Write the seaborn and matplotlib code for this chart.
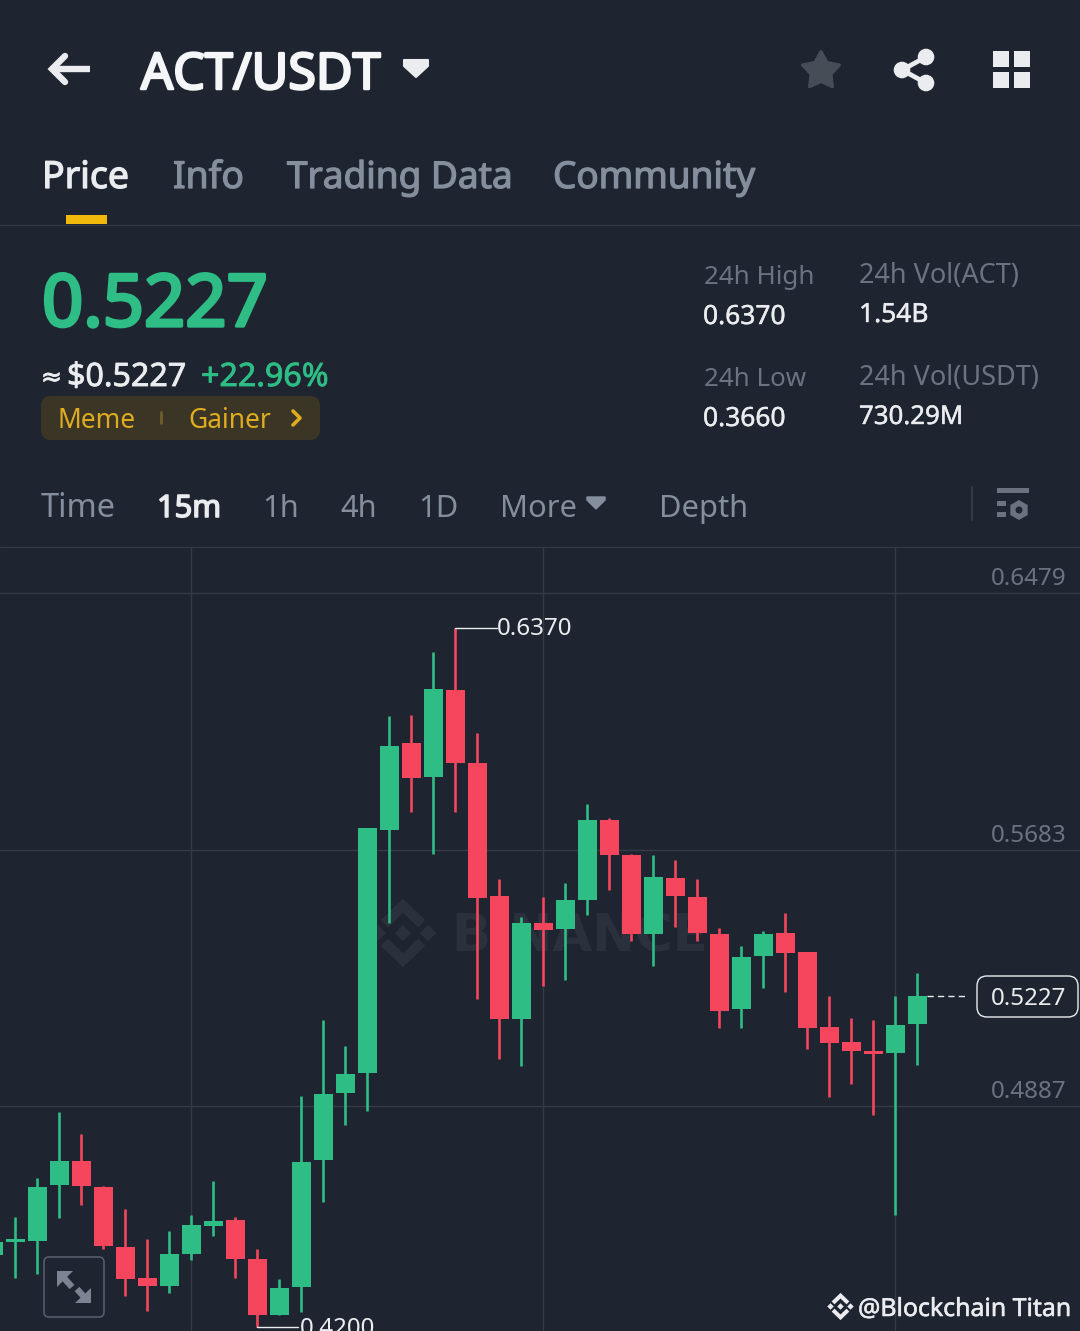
import numpy as np
import pandas as pd
import matplotlib
matplotlib.use('Agg')
import matplotlib.pyplot as plt
import matplotlib.patheffects as pe
from matplotlib.patches import FancyBboxPatch, Polygon, Rectangle, Circle, RegularPolygon
import seaborn as sns

BG = '#1e2530'
GRID = '#353b46'
UP = '#2ebd85'
DOWN = '#f6465d'
WHITE = '#eaecef'
GRAY = '#848e9c'
DIM = '#6b7380'

# candles
opens = [.4425, .4465, .4468, .4641, .4715, .4637, .4450, .4353, .4329, .4428, .4516, .4532, .4411, .4239,
         .4326, .4718, .4928, .4989, .5743, .6013, .5907, .6178, .5952, .5538, .5158, .5455, .5436, .5527,
         .5775, .5666, .5421, .5596, .5536, .5420, .5187, .5352, .5423, .5364, .5132, .5086, .5058, .5051, .5143]
closes = [.4466, .4475, .4637, .4715, .4639, .4452, .4351, .4329, .4428, .4518, .4530, .4412, .4239, .4321,
          .4714, .4923, .4985, .5749, .6004, .5906, .6180, .5952, .5533, .5158, .5455, .5434, .5526, .5776,
          .5666, .5421, .5599, .5539, .5423, .5183, .5349, .5420, .5362, .5128, .5083, .5058, .5048, .5138, .5227]
highs = [.4466, .4544, .4663, .4868, .4799, .4639, .4566, .4474, .4499, .4549, .4654, .4543, .4443, .4349,
         .4918, .5154, .5073, .5750, .6097, .6100, .6297, .6370, .6044, .5592, .5474, .5536, .5579, .5823,
         .5781, .5668, .5667, .5651, .5591, .5439, .5384, .5429, .5485, .5365, .5228, .5159, .5155, .5228, .5300]
lows = [.4425, .4352, .4365, .4540, .4581, .4443, .4298, .4250, .4306, .4408, .4483, .4352, .4200, .4239,
        .4247, .4589, .4827, .4872, .5454, .5799, .5670, .5799, .5220, .5032, .5012, .5259, .5278, .5480,
        .5557, .5400, .5321, .5444, .5400, .5129, .5129, .5253, .5241, .5065, .4915, .4956, .4860, .4550, .5014]

price_ticks = [0.6479, 0.5683, 0.4887]
grid_candles = [9, 25, 41]
tabs = ['Price', 'Info', 'Trading Data', 'Community']
intervals = ['Time', '15m', '1h', '4h', '1D', 'More', 'Depth']

sns.set_theme(style='dark', rc={'figure.facecolor': BG, 'axes.facecolor': BG})
plt.rcParams['font.family'] = ['Noto Sans', 'DejaVu Sans']

W, H = 1080, 1331
fig = plt.figure(figsize=(W / 100, H / 100), dpi=100, facecolor=BG)


def px_axes(z):
    a = fig.add_axes([0, 0, 1, 1], zorder=z)
    a.set_xlim(0, W)
    a.set_ylim(H, 0)
    a.axis('off')
    return a


back = px_axes(1)
top = px_axes(3)


def txt(a, x, y, s, size, color, stroke=0, ha='left', **kw):
    t = a.text(x, y, s, fontsize=size, color=color, ha=ha, va='baseline', **kw)
    if stroke:  # only the regular weight of the font is installed
        t.set_path_effects([pe.withStroke(linewidth=stroke, foreground=color)])
    return t


def logo(a, cx, cy, r, color):
    d = 0.24 * r
    for ox in [-0.74 * r, 0, 0.74 * r]:
        a.add_patch(Polygon([(cx + ox - d, cy), (cx + ox, cy - d), (cx + ox + d, cy), (cx + ox, cy + d)],
                            fc=color, ec='none'))
    for sign in [-1, 1]:
        a.plot([cx - 0.55 * r, cx, cx + 0.55 * r], [cy + sign * 0.27 * r, cy + sign * 0.8 * r, cy + sign * 0.27 * r],
               color=color, lw=0.3 * r * 0.72, solid_capstyle='butt', solid_joinstyle='miter')


# header
back.plot([90, 54], [69, 69], color=WHITE, lw=4.6, solid_capstyle='butt')
back.plot([65, 52, 65], [56, 69, 82], color=WHITE, lw=4.6, solid_joinstyle='miter', solid_capstyle='round')
txt(back, 141, 89, 'ACT/USDT', 36.2, '#f5f6f7', stroke=1.8)
back.add_patch(Polygon([(404, 60), (428, 60), (428, 66), (416, 77), (404, 66)], fc=WHITE, ec=WHITE, lw=1.5, joinstyle='round'))
angles = np.pi / 2 + np.arange(10) * np.pi / 5
radii = np.where(np.arange(10) % 2 == 0, 19.5, 10.5)
back.add_patch(Polygon(np.c_[821 + radii * np.cos(angles), 71 - radii * np.sin(angles)],
                       fc='#474d57', ec='#474d57', lw=2.2, joinstyle='round'))
for cx, cy in [(926, 57), (902, 70), (926, 83)]:
    back.add_patch(Circle((cx, cy), 8.3, fc=WHITE, ec='none'))
back.plot([926, 902, 926], [57, 70, 83], color=WHITE, lw=3.4)
for x0 in [993, 1014]:
    for y0 in [51, 72]:
        back.add_patch(Rectangle((x0, y0), 16, 16, fc=WHITE, ec='none'))

# tabs
for name, x, size, color in zip(tabs, [42, 173, 287, 553], [27, 26.8, 26.6, 26.6], [WHITE, GRAY, GRAY, GRAY]):
    txt(back, x, 188, name, size, color, stroke=0.9)
back.add_patch(Rectangle((66, 215), 41, 9, fc='#f0b90b', ec='none'))
back.plot([0, W], [224.5, 224.5], color=GRID, lw=0.9)

# price block
txt(back, 42, 326, '0.5227', 52, UP, stroke=2.4)
txt(back, 41, 385, '≈', 18, WHITE, stroke=0.6)
txt(back, 67, 386, '$0.5227', 23.2, WHITE, stroke=0.6)
txt(back, 201, 386, '+22.96%', 23.2, UP, stroke=0.6)
back.add_patch(FancyBboxPatch((49, 404), 263, 28, boxstyle='round,pad=8,rounding_size=10', fc='#3a3525', ec='none'))
txt(back, 57, 428, 'Meme', 19, '#e0ac1f')
back.plot([161, 161], [412, 423], color='#6e5f2a', lw=2)
txt(back, 188, 428, 'Gainer', 19, '#e0ac1f')
back.plot([293, 300, 293], [411, 418, 425], color='#e0ac1f', lw=2.6)

# 24h stats
for x, y, s, size in [(704, 284, '24h High', 18.7), (704, 386, '24h Low', 18.7),
                      (859, 283, '24h Vol(ACT)', 19.5), (859, 385, '24h Vol(USDT)', 19.5)]:
    txt(back, x, y, s, size, DIM)
for x, y, s, size in [(703, 324, '0.6370', 19), (703, 426, '0.3660', 19), (859, 322, '1.54B', 19), (859, 424, '730.29M', 18.6)]:
    txt(back, x, y, s, size, WHITE, stroke=0.3)

# interval row
for name, x in zip(intervals, [41, 157, 262, 340, 418, 500, 659]):
    if name == '15m':
        txt(back, x, 517, name, 22.2, WHITE, stroke=1.1)
    elif name == 'Time':
        txt(back, x, 517, name, 23.4, GRAY)
    else:
        txt(back, x, 517, name, 22.2, GRAY)
back.add_patch(Polygon([(587, 497), (605, 497), (605, 500), (596, 509), (587, 500)], fc=GRAY, ec=GRAY, lw=1))
back.plot([972, 972], [487, 520], color=GRID, lw=1.6)
back.add_patch(Rectangle((997, 488), 32, 5, fc=DIM, ec='none'))
back.add_patch(Rectangle((997, 501), 9, 5, fc=DIM, ec='none'))
back.add_patch(Rectangle((997, 512), 9, 5, fc=DIM, ec='none'))
back.add_patch(RegularPolygon((1019, 510), 6, radius=10, fc=DIM, ec='none'))
back.add_patch(Circle((1019, 510), 3.5, fc=BG, ec='none'))
back.plot([0, W], [546.5, 546.5], color=GRID, lw=0.9)

# watermark behind the candles
WM = '#2b313c'
logo(back, 403, 933, 34, WM)
back.text(451, 952, 'BINANCE', fontsize=37, color=WM, fontweight='bold', family='DejaVu Sans', va='baseline')

# candles
df = pd.DataFrame({'idx': range(len(opens)), 'open': opens, 'close': closes, 'high': highs, 'low': lows})
df['side'] = np.where(df['close'] >= df['open'], 'up', 'down')
df['bottom'] = df[['open', 'close']].min(axis=1)
df['body'] = (df['close'] - df['open']).abs()

ax = fig.add_axes([0, 0, 1, (H - 547) / H], zorder=2)
ax.patch.set_alpha(0)
wicks = df.melt(id_vars=['idx', 'side'], value_vars=['high', 'low'], value_name='price')
sns.lineplot(data=wicks, x='idx', y='price', hue='side', units='idx', estimator=None, legend=False,
             palette={'up': UP, 'down': DOWN}, linewidth=1.9, solid_capstyle='butt', ax=ax)
for side, color in [('up', UP), ('down', DOWN)]:
    sub = df[df['side'] == side]
    sns.barplot(x=sub['idx'], y=sub['body'], bottom=sub['bottom'].values, native_scale=True, color=color,
                saturation=1, errorbar=None, width=0.88, linewidth=0, ax=ax)

# pixel x = -6.7 + 22 * idx, pixel y = (0.83193 - price) / 0.00031033
ax.set_xlim(0.3045, 49.395)
ax.set_ylim(0.41888, 0.66218)
ax.set_xlabel('')
ax.set_ylabel('')
ax.set_xticks([])
ax.set_yticks([])
for s in ax.spines.values():
    s.set_visible(False)
for v in price_ticks:
    ax.axhline(v, color=GRID, lw=1, zorder=0)
    ax.annotate(f'{v:.4f}', xy=(1, v), xycoords=('axes fraction', 'data'), xytext=(-9.5, 1.4),
                textcoords='offset points', ha='right', va='bottom', color=DIM, fontsize=17.4)
for c in grid_candles:
    ax.axvline(c, color=GRID, lw=1, zorder=0)

# high / low / last labels
hi = df.loc[df['high'].idxmax()]
lo = df.loc[df['low'].idxmin()]
ax.plot([hi['idx'], hi['idx'] + 1.9], [hi['high'], hi['high']], color=WHITE, lw=1)
ax.annotate(f"{hi['high']:.4f}", xy=(hi['idx'] + 1.9, hi['high']), xytext=(0, -0.8), textcoords='offset points',
            color=WHITE, fontsize=17.4, va='center')
ax.plot([lo['idx'], lo['idx'] + 1.85], [lo['low'], lo['low']], color=WHITE, lw=1)
ax.annotate(f"{lo['low']:.4f}", xy=(lo['idx'] + 1.95, lo['low']), xytext=(0, -1.5), textcoords='offset points',
            color=WHITE, fontsize=17.4, va='center', annotation_clip=False)
last = closes[-1]
ax.plot([len(closes) - 1 + 0.45, 44.2], [last, last], color=WHITE, lw=1, ls=(0, (4.5, 3)))
top.add_patch(FancyBboxPatch((986, 985), 83, 23, boxstyle='round,pad=9,rounding_size=10', fc=BG, ec=WHITE, lw=1))
top.text(1028.5, 999, f'{last:.4f}', color=WHITE, fontsize=17.4, ha='center', va='center')

# expand button
ICON = '#7c8494'
top.add_patch(FancyBboxPatch((50, 1263), 48, 48, boxstyle='round,pad=6,rounding_size=5', fc=BG, ec='#5a6270', lw=1.2, alpha=0.9))
top.plot([63, 72], [1277, 1287], color=ICON, lw=4.6, solid_capstyle='butt')
top.plot([77, 85], [1289, 1298], color=ICON, lw=4.6, solid_capstyle='butt')
top.add_patch(Polygon([(57, 1271), (73, 1271), (57, 1287)], fc=ICON, ec='none'))
top.add_patch(Polygon([(91, 1303), (75, 1303), (91, 1288)], fc=ICON, ec='none'))

# source tag
logo(top, 840.5, 1306.5, 13.5, WHITE)
txt(top, 858, 1316, '@Blockchain Titan', 17.9, WHITE, stroke=0.4)

fig.savefig('out.png', dpi=100, facecolor=BG)
